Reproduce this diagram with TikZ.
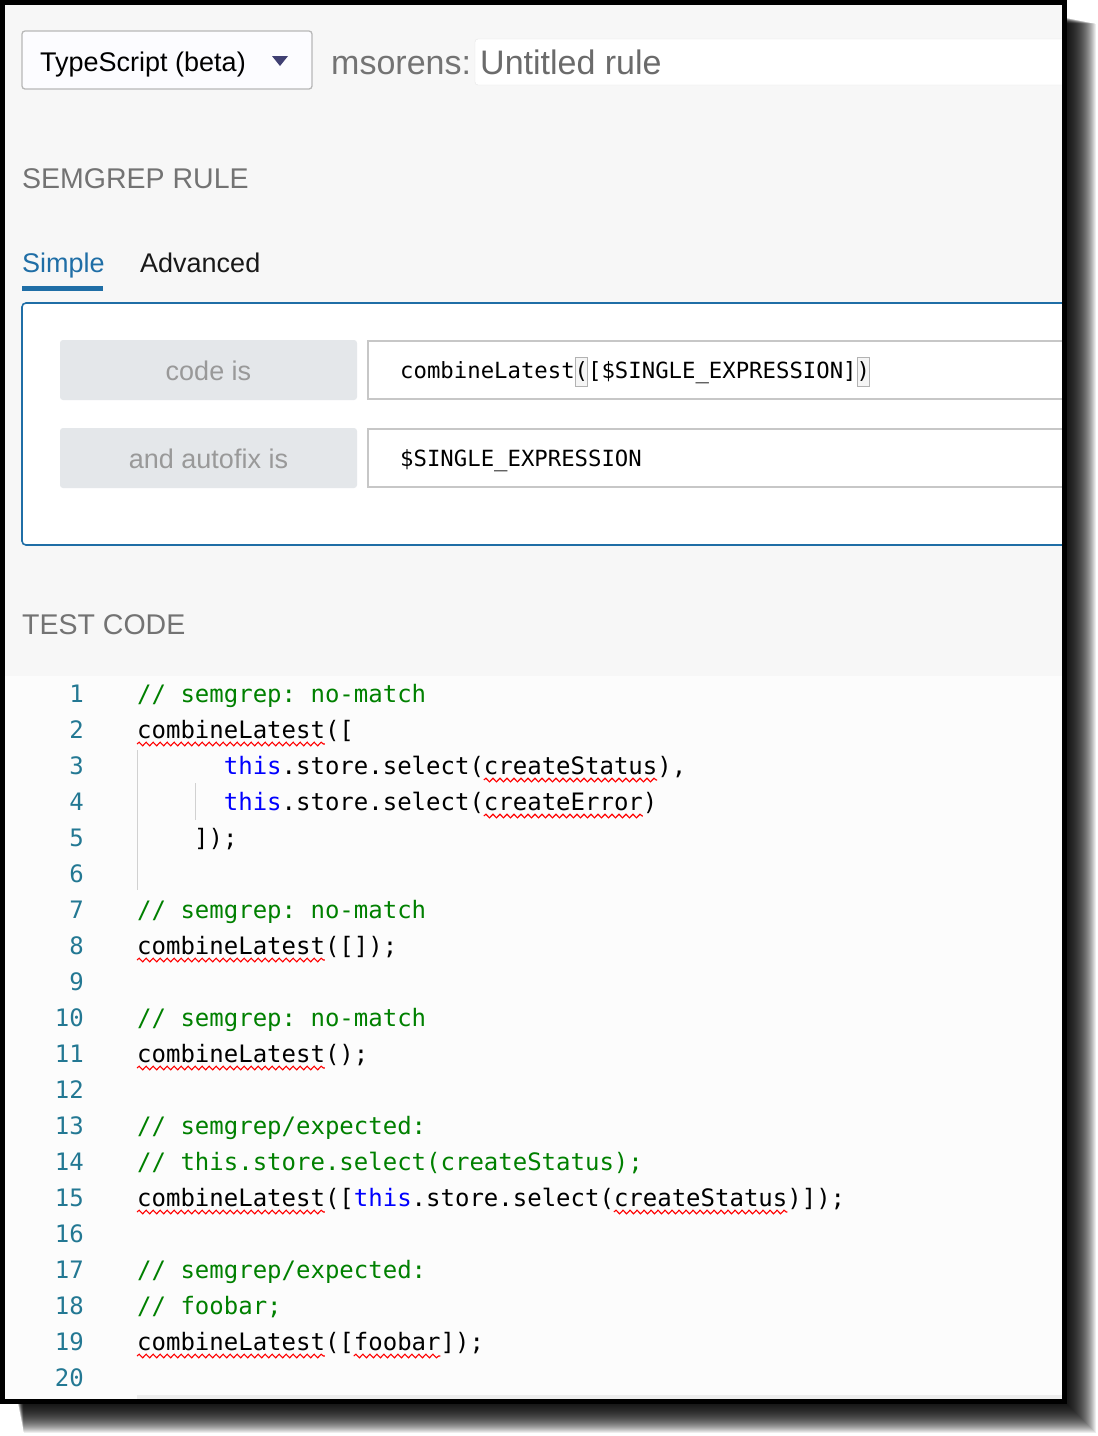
\documentclass[tikz,border=0pt]{standalone}
\usepackage{fontspec}
\setmainfont{Liberation Sans}
\setmonofont{DejaVu Sans Mono}
\usetikzlibrary{decorations.pathmorphing}
\definecolor{bgg}{HTML}{F7F7F7}
\definecolor{lnum}{HTML}{237893}
\definecolor{cmt}{HTML}{008000}
\definecolor{kw}{HTML}{0000FF}
\definecolor{sblue}{HTML}{1F6EA6}
\definecolor{btn}{HTML}{E4E7EA}
\tikzset{
  ui/.style={font=\fontsize{27}{30}\selectfont, anchor=base west, inner sep=0},
  code/.style={font=\ttfamily\fontsize{24}{28}\selectfont, anchor=base west, inner sep=0},
  ln/.style={font=\ttfamily\fontsize{24}{28}\selectfont, anchor=base east, inner sep=0, text=lnum},
  squig/.style={red, line width=1.1pt, decorate, decoration={snake, amplitude=1.8pt, segment length=7pt}},
  inbox/.style={draw=black!22, fill=white, line width=1.2pt},
}
\newcommand{\cw}{14.45}
\begin{document}
\begin{tikzpicture}[x=1pt,y=-1pt]
\useasboundingbox (0,0) rectangle (1098,1436);
\fill[white] (0,0) rectangle (1098,1436);
% shadow
\foreach \i in {0,...,28}{
  \fill[black, opacity=0.07] (18+\i*0.2,18+\i*0.2) rectangle (1068+\i*1.0,1405+\i*1.0);
}
\begin{scope}
\clip (0,0) rectangle (1066,1403);
\fill[bgg] (0,0) rectangle (1066,676);
\fill[white!99!black] (0,676) rectangle (1066,1403);
\fill[black!7] (137,1395) rectangle (1062,1400);
% top bar
\draw[black!28, fill=black!2!blue!1!white, rounded corners=3pt, line width=1.3pt] (22,31) rectangle (312,89);
\node[ui] (lang) at (40,71) {TypeScript (beta)};
\fill[black!60!blue!50!gray] (272,56) -- (288,56) -- (280,66) -- cycle;
\node[ui, text=black!55, font=\fontsize{34}{36}\selectfont] (user) at (331,74) {msorens:};
\draw[black!10, fill=white, rounded corners=3pt] (475,39) rectangle (1090,85);
\node[ui, text=black!58, font=\fontsize{34}{36}\selectfont] (title) at (480,74) {Untitled rule};
% sections
\node[ui, text=black!55, font=\fontsize{28.5}{32}\selectfont] (sem) at (22,188) {SEMGREP RULE};
\node[ui, text=sblue] (simple) at (22,272) {Simple};
\node[ui, text=black!90] (adv) at (140,272) {Advanced};
\fill[sblue] (22,286) rectangle (103,291);
\draw[sblue, line width=1.6pt, fill=white, rounded corners=4pt] (22,303) rectangle (1090,545);
\fill[btn, rounded corners=3pt] (60,340) rectangle (357,400);
\fill[btn, rounded corners=3pt] (60,428) rectangle (357,488);
\node[ui, text=black!40, anchor=base] (codeis) at (208.5,380) {code is};
\node[ui, text=black!40, anchor=base] (autofix) at (208.5,468) {and autofix is};
\draw[inbox] (368,341) rectangle (1090,399);
\draw[inbox] (368,429) rectangle (1090,487);
\fill[black!4] (575,357) rectangle (587,386);
\draw[black!30] (575,357) rectangle (587,386);
\fill[black!4] (857,357) rectangle (869,386);
\draw[black!30] (857,357) rectangle (869,386);
\node[code, font=\ttfamily\fontsize{22.3}{26}\selectfont] (pat) at (400,378) {combineLatest([\$SINGLE\_EXPRESSION])};
\node[code, font=\ttfamily\fontsize{22.3}{26}\selectfont] (fix) at (400,466) {\$SINGLE\_EXPRESSION};
\node[ui, text=black!55, font=\fontsize{28.5}{32}\selectfont] (test) at (22,634) {TEST CODE};
% line numbers
\foreach \n in {1,...,20}{
  \node[ln] (n\n) at (84,702+36*\n-36) {\n};
}
% indent guides
\draw[black!18, line width=1pt] (137,750) -- (137,890);
\draw[black!18, line width=1pt] (195,783) -- (195,820);
% code lines
\node[code, text=cmt] (l1) at (137,702) {// semgrep: no-match};
\node[code] (l2) at (137,738) {combineLatest([};
\node[code] (l3) at (223.7,774) {\textcolor{kw}{this}.store.select(createStatus),};
\node[code] (l4) at (223.7,810) {\textcolor{kw}{this}.store.select(createError)};
\node[code] (l5) at (194,846) {]);};
\node[code, text=cmt] (l7) at (137,918) {// semgrep: no-match};
\node[code] (l8) at (137,954) {combineLatest([]);};
\node[code, text=cmt] (l10) at (137,1026) {// semgrep: no-match};
\node[code] (l11) at (137,1062) {combineLatest();};
\node[code, text=cmt] (l13) at (137,1134) {// semgrep/expected:};
\node[code, text=cmt] (l14) at (137,1170) {// this.store.select(createStatus);};
\node[code] (l15) at (137,1206) {combineLatest([\textcolor{kw}{this}.store.select(createStatus)]);};
\node[code, text=cmt] (l17) at (137,1278) {// semgrep/expected:};
\node[code, text=cmt] (l18) at (137,1314) {// foobar;};
\node[code] (l19) at (137,1350) {combineLatest([foobar]);};
% squiggles
\foreach \y/\a/\b in {744/0/13, 780/24/36, 816/24/35, 960/0/13, 1068/0/13, 1212/0/13, 1212/33/45, 1356/0/13, 1356/15/21}{
  \draw[squig] (137+\cw*\a,\y) -- (137+\cw*\b,\y);
}
\end{scope}
% border
\draw[black, line width=5pt] (2.5,2.5) rectangle (1064,1401);
\end{tikzpicture}
\end{document}
